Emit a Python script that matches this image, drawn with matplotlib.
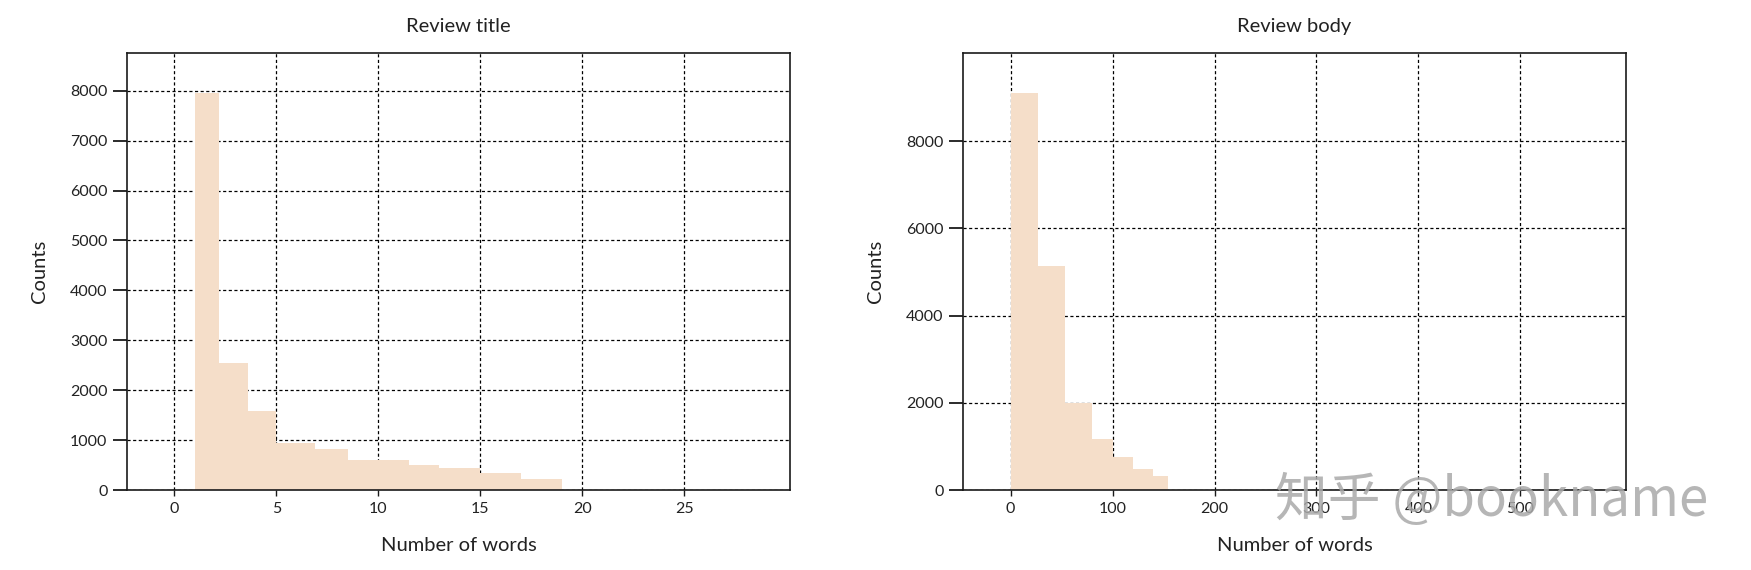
import matplotlib
matplotlib.use("Agg")
import matplotlib.pyplot as plt

# ---- data ----
title_edges = [1.0, 2.2, 3.6, 5.0, 6.9, 8.5, 11.5, 13.0, 15.0, 17.0, 19.0]
title_counts = [7960, 2550, 1590, 950, 820, 610, 510, 440, 350, 230]

body_edges = [0, 27, 53, 80, 100, 120, 140, 154]
body_counts = [9110, 5130, 1990, 1180, 750, 490, 330]

title_xticks = [0, 5, 10, 15, 20, 25]
title_yticks = [0, 1000, 2000, 3000, 4000, 5000, 6000, 7000, 8000]
body_xticks = [0, 100, 200, 300, 400, 500]
body_yticks = [0, 2000, 4000, 6000, 8000]

panel_titles = ["Review title", "Review body"]
x_label = "Number of words"
y_label = "Counts"
watermark = "知乎 @bookname"

BAR = "#f5dec9"
TXT = "#222222"

plt.rcParams["font.family"] = ["Lato", "DejaVu Sans"]

fig = plt.figure(figsize=(17.51, 5.70), dpi=100)
ax1 = fig.add_axes([127 / 1751, 80 / 570, 663 / 1751, 437 / 570])
ax2 = fig.add_axes([963 / 1751, 80 / 570, 663 / 1751, 437 / 570])

specs = [
    (ax1, title_edges, title_counts, title_xticks, title_yticks, (-2.33, 30.2)),
    (ax2, body_edges, body_counts, body_xticks, body_yticks, (-46.7, 603.6)),
]

for i, (ax, edges, counts, xt, yt, xl) in enumerate(specs):
    ax.hist(edges[:-1], bins=edges, weights=counts, color=BAR, zorder=2,
            linewidth=0)
    ax.set_axisbelow(True)
    ax.grid(True, color="black", linewidth=0.9, linestyle=(0, (2.5, 2.0)),
            zorder=0)
    ax.set_xlim(*xl)
    ax.set_ylim(0, 1.1 * max(counts))
    ax.set_xticks(xt)
    ax.set_yticks(yt)
    for s in ax.spines.values():
        s.set_linewidth(1.2)
        s.set_color("#1a1a1a")
    ax.tick_params(axis="y", direction="out", length=10, width=1.3,
                   labelsize=11.5, colors="#1a1a1a", labelcolor=TXT, pad=4)
    ax.tick_params(axis="x", direction="out", length=4.5, width=1.0,
                   labelsize=11.5, colors="#1a1a1a", labelcolor=TXT, pad=4)
    ax.set_title(panel_titles[i], fontsize=14.5, color=TXT, pad=15)
    ax.set_xlabel(x_label, fontsize=14.5, color=TXT, labelpad=15)
    ax.set_ylabel(y_label, fontsize=14.5, color=TXT, labelpad=16)

fig.text(1275 / 1751, (570 - 516) / 570, watermark,
         family=["Noto Sans CJK SC", "DejaVu Sans"], fontsize=38,
         color="#a9a9a9", alpha=0.85, va="baseline", ha="left", zorder=10)

fig.savefig("out.png", dpi=100, facecolor="white")
